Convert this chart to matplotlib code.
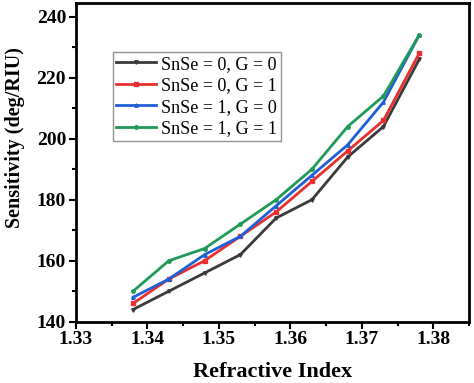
import matplotlib.pyplot as plt
from matplotlib.ticker import MultipleLocator

plt.rcParams['font.family'] = ['Liberation Serif', 'DejaVu Serif']

ri = [1.338, 1.343, 1.348, 1.353, 1.358, 1.363, 1.368, 1.373, 1.378]
s00 = [144, 150, 156, 162, 174, 180, 194, 204, 226]
s01 = [146, 154, 160, 168, 176, 186, 196, 206, 228]
s10 = [148, 154, 162, 168, 178, 188, 198, 212, 234]
s11 = [150, 160, 164, 172, 180, 190, 204, 214, 234]

labels = ['SnSe = 0, G = 0', 'SnSe = 0, G = 1', 'SnSe = 1, G = 0', 'SnSe = 1, G = 1']
colors = ['#3a3a3a', '#e8302f', '#1f5fd6', '#1f9a5a']
markers = ['v', 's', '^', 'o']

fig, ax = plt.subplots(figsize=(4.74, 3.83), dpi=100)
fig.subplots_adjust(left=0.16, right=0.99, top=0.992, bottom=0.16)

for y, lab, c, m in zip([s00, s01, s10, s11], labels, colors, markers):
    ax.plot(ri, y, color=c, marker=m, markersize=2.5, linewidth=2, label=lab)

ax.set_xlim(1.33, 1.385)
ax.set_ylim(140, 244.5)
ax.xaxis.set_major_locator(MultipleLocator(0.01))
ax.xaxis.set_minor_locator(MultipleLocator(0.005))
ax.yaxis.set_major_locator(MultipleLocator(20))
ax.yaxis.set_minor_locator(MultipleLocator(10))
ax.xaxis.set_major_formatter(plt.FuncFormatter(lambda v, p: f'{v:.2f}'))

ax.tick_params(which='major', direction='out', length=5, width=1.5, labelsize=14, pad=2)
ax.tick_params(which='minor', direction='out', length=3, width=1.5)
for lbl in ax.get_xticklabels() + ax.get_yticklabels():
    lbl.set_fontweight('bold')
for sp in ax.spines.values():
    sp.set_linewidth(2)

ax.set_xlabel('Refractive Index', fontsize=16, fontweight='bold')
ax.set_ylabel('Sensitivity (deg/RIU)', fontsize=14.5, fontweight='bold')
ax.yaxis.set_label_coords(-0.13, 0.577)
ax.xaxis.set_label_coords(0.5, -0.125)

leg = ax.legend(loc='upper left', bbox_to_anchor=(0.094, 0.846), fontsize=13,
                handlelength=2.2, handletextpad=0.28, labelspacing=0.25,
                borderpad=0.2, borderaxespad=0, fancybox=False, edgecolor='#777777')
leg.get_frame().set_linewidth(1)

fig.savefig('out.png')
